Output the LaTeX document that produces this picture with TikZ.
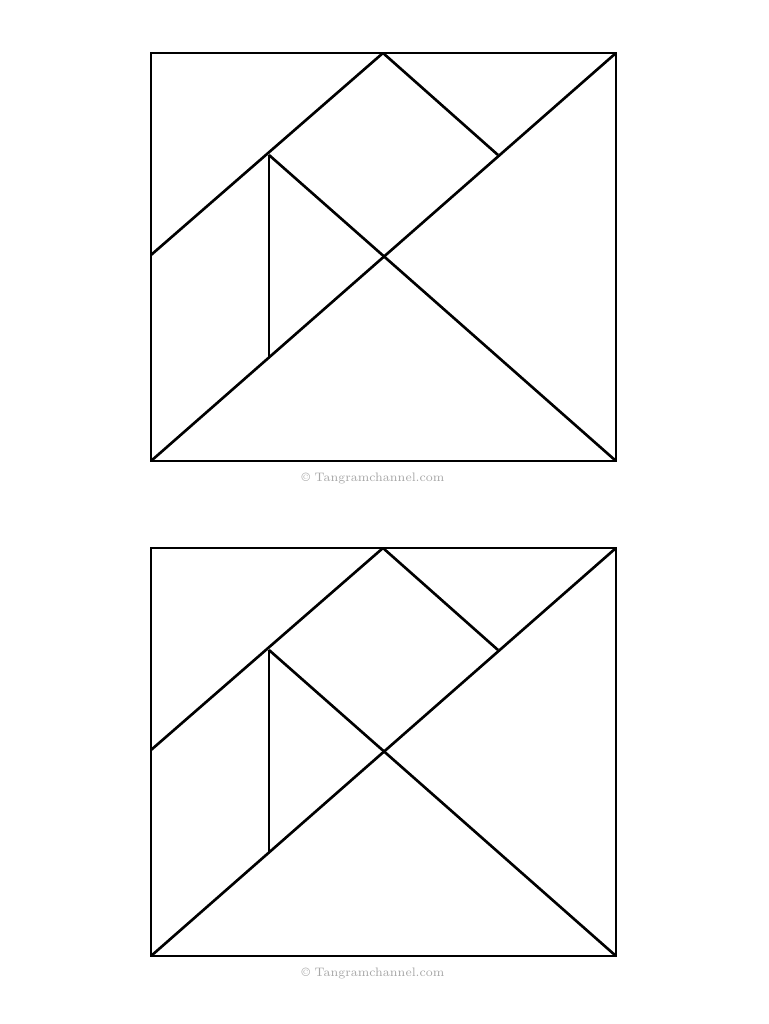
\documentclass[tikz,border=0pt]{standalone}
\begin{document}
\begin{tikzpicture}[x=0.02cm, y=-0.02cm, every path/.style={line width=1.5pt, line join=miter}]

    \useasboundingbox (0,0) rectangle (768,1024);

    \foreach \dy/\tag in {0/a, 495/b} {
    \begin{scope}[yshift=-\dy*0.02cm]

    \coordinate (tl\tag) at (151,53);
    \coordinate (tr\tag) at (616,53);
    \coordinate (bl\tag) at (151,461);
    \coordinate (br\tag) at (616,461);

    \coordinate (apex\tag) at (383,53);
    \coordinate (left\tag) at (151,255);
    \coordinate (p\tag) at (269,155);
    \coordinate (q\tag) at (269,358);
    \coordinate (mid\tag) at (383,257);
    \coordinate (r\tag) at (498,155);

    \draw[line width=1.2pt] (tl\tag) rectangle (br\tag);

    \draw[] (left\tag) to (apex\tag);
    \draw[] (apex\tag) to (r\tag);
    \draw[] (tr\tag) to (bl\tag);
    \draw[] (p\tag) to (br\tag);
    \draw[] (p\tag) to (q\tag);

    \node[text=black!35, font=\scriptsize, inner sep=0pt] (cap\tag) at (373,478) {\copyright\ Tangramchannel.com};

    \end{scope}
    }

\end{tikzpicture}
\end{document}
